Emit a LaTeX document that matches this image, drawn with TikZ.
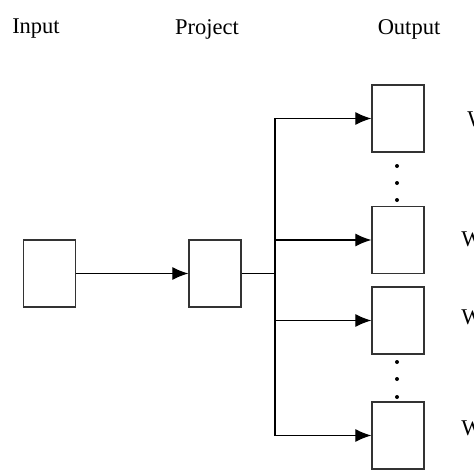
\documentclass[tikz,border=0pt]{standalone}
\usepackage{fontspec}
\setmainfont{Liberation Serif}
\usetikzlibrary{arrows.meta}

\begin{document}
\begin{tikzpicture}[
		x=0.025cm, y=-0.025cm,
		box/.style={draw=black!80, line width=0.8pt, rectangle, minimum width=1.3cm, minimum height=1.675cm, inner sep=0pt},
		head/.style={font=\fontsize{16}{19}\selectfont},
		tag/.style={font=\fontsize{16}{19}\selectfont, anchor=west, inner sep=0pt},
		line/.style={-{Latex[length=4mm,width=3.2mm]}, line width=0.8pt},
		wire/.style={line width=1pt}
		]
		\useasboundingbox (0,0) rectangle (474,474);
		\clip (0,0) rectangle (474,474);
		
		% ======================
		% Headings
		% ======================
		\node[head] (hin) at (36,29) {Input};
		\node[head] (hproj) at (207,29) {Project};
		\node[head] (hout) at (409,29) {Output};
		
		% ======================
		% Boxes
		% ======================
		\node[box] (in) at (49.5,273.5) {};
		\node[box] (proj) at (215,273.5) {};
		
		\node[box] (out1) at (398,118.5) {};
		\node[box] (out2) at (398,240) {};
		\node[box] (out3) at (398,320.5) {};
		\node[box] (out4) at (398,435.5) {};
		
		% ======================
		% Labels (cut at the edge)
		% ======================
		\node[tag] (w1) at (467,119) {W};
		\node[tag] (w2) at (461,239) {W};
		\node[tag] (w3) at (461,317) {W};
		\node[tag] (w4) at (461,428) {W};
		
		% ======================
		% Connections
		% ======================
		\coordinate (fork) at (275,273.5);
		\draw[line] (in) -- (proj);
		\draw[wire] (proj.east) -- (fork);
		\foreach \o in {out1,out2,out3,out4}
			\draw[line] (fork) |- (\o.west);
		
		% dots between outputs
		\foreach \y in {166,183,200,362,379,397}
			\fill (397,\y) circle (2);
		
	\end{tikzpicture}
\end{document}
